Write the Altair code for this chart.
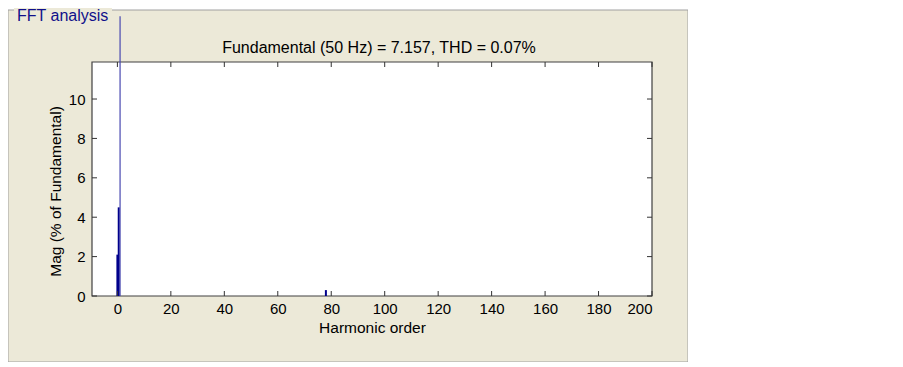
import altair as alt
import pandas as pd

# Data
harmonic = [0, 0.5, 78]
magnitude = [2.1, 4.5, 0.3]
fund_harmonic = [1]
fund_mag = [14.2]          # fundamental bar, drawn past the top of the axes

x_ticks = [0, 20, 40, 60, 80, 100, 120, 140, 160, 180, 200]
y_ticks = [0, 2, 4, 6, 8, 10]

title_text = "Fundamental (50 Hz) = 7.157, THD = 0.07%"
panel_label = "FFT analysis"

W, H = 560, 234
X_DOM = [-9.5, 200]
Y_DOM = [0, 11.88]
BEIGE = "#ece9d8"
FONT = "Liberation Sans"

bars_df = pd.DataFrame({"h": harmonic, "m": magnitude})
fund_df = pd.DataFrame({"h": fund_harmonic, "m": fund_mag})
xt_df = pd.DataFrame({"t": x_ticks})
yt_df = pd.DataFrame({"t": y_ticks})

xs = alt.Scale(domain=X_DOM, nice=False, zero=False, padding=0)
ys = alt.Scale(domain=Y_DOM, nice=False, zero=False, padding=0)

# decorative panel
panel = alt.Chart(pd.DataFrame({"a": [0]})).mark_rect(
    fill=BEIGE, stroke="#a0a0a0", strokeWidth=1, clip=False
).encode(x=alt.value(-84), x2=alt.value(596), y=alt.value(-52), y2=alt.value(300))

label_bg = alt.Chart(pd.DataFrame({"a": [0]})).mark_rect(
    fill=BEIGE, clip=False
).encode(x=alt.value(-78), x2=alt.value(20), y=alt.value(-54), y2=alt.value(-40))

plot_bg = alt.Chart(pd.DataFrame({"a": [0]})).mark_rect(
    fill="white", stroke="#404040", strokeWidth=1.2, clip=False
).encode(x=alt.value(0), x2=alt.value(W), y=alt.value(0), y2=alt.value(H))

label = alt.Chart(pd.DataFrame({"s": [panel_label]})).mark_text(
    align="left", baseline="top", font=FONT, fontSize=16, color="#10108a"
).encode(x=alt.value(-75), y=alt.value(-54), text="s:N")

title = alt.Chart(pd.DataFrame({"s": [title_text]})).mark_text(
    align="center", baseline="alphabetic", font=FONT, fontSize=16, color="black"
).encode(x=alt.value(W / 2 + 7), y=alt.value(-9), text="s:N")

base_axes = alt.Chart(bars_df).mark_bar(size=2, color="#00008b", clip=True).encode(
    x=alt.X("h:Q", scale=xs, title="Harmonic order",
            axis=alt.Axis(values=x_ticks, tickSize=0, domain=False, grid=False, zindex=1,
                          labelFont=FONT, labelFontSize=15, labelColor="black",
                          labelPadding=5, titleFont=FONT, titleFontSize=15.5,
                          titleFontWeight="normal", titleColor="black", titlePadding=4)),
    y=alt.Y("m:Q", scale=ys, title="Mag (% of Fundamental)",
            axis=alt.Axis(values=y_ticks, tickSize=0, domain=False, grid=False, zindex=1,
                          labelFont=FONT, labelFontSize=15, labelColor="black",
                          labelPadding=7, titleFont=FONT, titleFontSize=15.5,
                          titleFontWeight="normal", titleColor="black", titlePadding=5,
                          titleY=129)),
)

fund = alt.Chart(fund_df).mark_rule(color="#4848b0", strokeWidth=1.2, clip=False).encode(
    x=alt.X("h:Q", scale=xs), y=alt.Y("m:Q", scale=ys), y2=alt.datum(0)
)

tick_style = dict(color="#333333", strokeWidth=1, clip=False)
xt_bot = alt.Chart(xt_df).mark_rule(**tick_style).encode(
    x=alt.X("t:Q", scale=xs), y=alt.value(H), y2=alt.value(H - 5))
xt_top = alt.Chart(xt_df).mark_rule(**tick_style).encode(
    x=alt.X("t:Q", scale=xs), y=alt.value(0), y2=alt.value(5))
yt_left = alt.Chart(yt_df).mark_rule(**tick_style).encode(
    y=alt.Y("t:Q", scale=ys), x=alt.value(0), x2=alt.value(5))
yt_right = alt.Chart(yt_df).mark_rule(**tick_style).encode(
    y=alt.Y("t:Q", scale=ys), x=alt.value(W), x2=alt.value(W - 5))

chart = alt.layer(
    panel, label_bg, label, title, plot_bg, base_axes, fund,
    xt_bot, xt_top, yt_left, yt_right
).properties(
    width=W, height=H,
    autosize=alt.AutoSizeParams(type="none"),
    padding={"left": 84, "top": 54, "right": 36, "bottom": 66},
    background="white",
).configure_view(stroke=None)

chart.save("out.html", embed_options={"renderer": "svg", "actions": False})
